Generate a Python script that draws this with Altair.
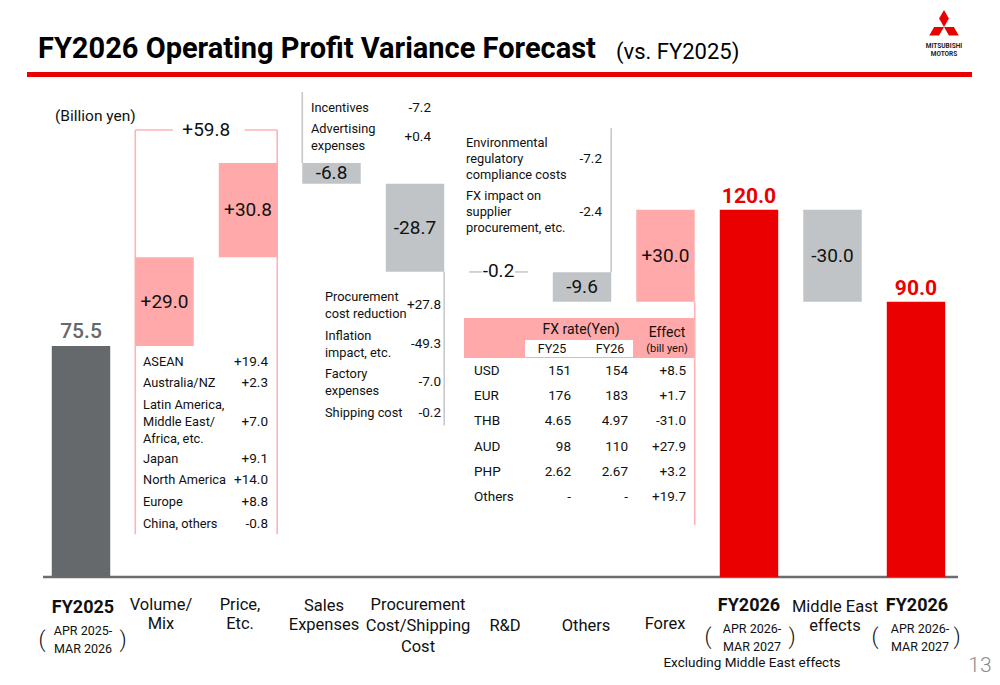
import altair as alt
import pandas as pd

FONT = "Roboto"

# ---- waterfall data (billion yen) ----
steps = ["FY2025", "Volume/Mix", "Price, Etc.", "Sales Expenses",
         "Procurement Cost/Shipping Cost", "R&D", "Others", "Forex",
         "FY2026", "Middle East effects", "FY2026 incl. Middle East"]
values = [75.5, 29.0, 30.8, -6.8, -28.7, -0.2, -9.6, 30.0, 120.0, -30.0, 90.0]
kinds = ["total", "delta", "delta", "delta", "delta", "delta", "delta", "delta",
         "total", "delta", "total"]

# ---- breakdowns ----
volume_items = ["ASEAN", "Australia/NZ", "Latin America,\nMiddle East/\nAfrica, etc.",
                "Japan", "North America", "Europe", "China, others"]
volume_vals = [19.4, 2.3, 7.0, 9.1, 14.0, 8.8, -0.8]

sales_items = ["Incentives", "Advertising\nexpenses"]
sales_vals = [-7.2, 0.4]

procure_items = ["Procurement\ncost reduction", "Inflation\nimpact, etc.",
                 "Factory\nexpenses", "Shipping cost"]
procure_vals = [27.8, -49.3, -7.0, -0.2]

others_items = ["Environmental\nregulatory\ncompliance costs",
                "FX impact on\nsupplier\nprocurement, etc."]
others_vals = [-7.2, -2.4]

fx_currencies = ["USD", "EUR", "THB", "AUD", "PHP", "Others"]
fx_fy25 = ["151", "176", "4.65", "98", "2.62", "-"]
fx_fy26 = ["154", "183", "4.97", "110", "2.67", "-"]
fx_effect = [8.5, 1.7, -31.0, 27.9, 3.2, 19.7]

# ---- colours ----
C_BASE = "#65696c"
C_UP = "#ffa9aa"
C_DOWN = "#c0c4c7"
C_RED = "#eb0000"
C_PINK_LINE = "#ffb3b5"
C_GREY_LINE = "#c6c8ca"

W, H = 1000, 685
HW = 0.35  # half bar width in category units
X_DOM = [-0.9701, 11.006]
Y_DOM = [-35.30, 188.59]
x_scale = alt.Scale(domain=X_DOM, nice=False, zero=False)
y_scale = alt.Scale(domain=Y_DOM, nice=False, zero=False)


def sx(px):
    """Screen x (layout units) -> category axis units."""
    return X_DOM[0] + px / W * (X_DOM[1] - X_DOM[0])


def sy(py):
    """Screen y (layout units) -> value axis units."""
    return Y_DOM[1] - py / H * (Y_DOM[1] - Y_DOM[0])


def fmt(v):
    return f"{v:+.1f}"


# ---- build waterfall table ----
rows = []
running = 0.0
for i, (s, v, k) in enumerate(zip(steps, values, kinds)):
    if k == "total":
        start, end = 0.0, v
        running = v
        fill = C_BASE if i == 0 else C_RED
    else:
        start, end = running, running + v
        running = end
        fill = C_UP if v > 0 else C_DOWN
    rows.append(dict(idx=i, step=s, x0=i - HW, x1=i + HW, start=start, end=end,
                     mid=(start + end) / 2, top=max(start, end), fill=fill,
                     kind=k, value=v))
bar_df = pd.DataFrame(rows)
ends = bar_df.set_index("idx")["end"].to_dict()
starts = bar_df.set_index("idx")["start"].to_dict()

X = lambda f: alt.X(f, scale=x_scale, axis=None)
Y = lambda f: alt.Y(f, scale=y_scale, axis=None)

bars = alt.Chart(bar_df).mark_rect().encode(
    x=X("x0:Q"), x2="x1:Q", y=Y("start:Q"), y2="end:Q",
    color=alt.Color("fill:N", scale=None),
)

# delta labels centred in the bars
delta_df = bar_df[(bar_df.kind == "delta") & (bar_df.step != "R&D")].copy()
delta_df["label"] = delta_df["value"].map(fmt)
delta_labels = alt.Chart(delta_df).mark_text(font=FONT, fontSize=19, color="#111").encode(
    x=X("idx:Q"), y=Y("mid:Q"), text="label:N")

# R&D: thin bar with its label sitting on it
rd_df = bar_df[bar_df.step == "R&D"].copy()
rd_df["label"] = rd_df["value"].map(fmt)
rd_df["bx0"] = rd_df["idx"] - 0.2
rd_df["bx1"] = rd_df["idx"] + 0.2
rd_df["by0"] = rd_df["mid"] - 2.5
rd_df["by1"] = rd_df["mid"] + 2.5
rd_line = alt.Chart(rd_df).mark_rule(color="#b5b8bb", strokeWidth=1).encode(
    x=X("x0:Q"), x2="x1:Q", y=Y("mid:Q"))
rd_bg = alt.Chart(rd_df).mark_rect(color="white").encode(
    x=X("bx0:Q"), x2="bx1:Q", y=Y("by0:Q"), y2="by1:Q")
rd_label = alt.Chart(rd_df).mark_text(font=FONT, fontSize=19, color="#111", dy=-1).encode(
    x=X("idx:Q"), y=Y("mid:Q"), text="label:N")

# totals labelled above the bars
tot_df = bar_df[bar_df.kind == "total"].copy()
tot_df["label"] = tot_df["value"].map(lambda v: f"{v:.1f}")
tot_first = alt.Chart(tot_df[tot_df.idx == 0]).mark_text(
    font=FONT, fontSize=21, color=C_BASE, fontWeight=500, dy=-14).encode(
    x=X("idx:Q"), y=Y("top:Q"), text="label:N")
tot_red = alt.Chart(tot_df[tot_df.idx > 0]).mark_text(
    font=FONT, fontSize=21, color=C_RED, fontWeight="bold", dy=-13).encode(
    x=X("idx:Q"), y=Y("top:Q"), text="label:N")

# ---- connector lines attached to the bars ----
BRACKET_V = 146.1
TABLE_BOTTOM_V = 14.0
conn = [
    # bracket over Volume/Mix + Price
    (1 - HW, 1 - HW, BRACKET_V, TABLE_BOTTOM_V, C_PINK_LINE),
    (2 + HW, 2 + HW, BRACKET_V, TABLE_BOTTOM_V, C_PINK_LINE),
    (1 - HW, 1.10, BRACKET_V, BRACKET_V, C_PINK_LINE),
    (1.96, 2 + HW, BRACKET_V, BRACKET_V, C_PINK_LINE),
    # Sales expenses
    (3 - HW, 3 - HW, starts[3], 158.5, C_GREY_LINE),
    # Procurement
    (4 + HW, 4 + HW, ends[4], 49.5, C_GREY_LINE),
    # Others
    (6 + HW, 6 + HW, starts[6], 146.7, C_GREY_LINE),
    # Forex
    (7 + HW, 7 + HW, starts[7], 17.0, C_PINK_LINE),
]
conn_df = pd.DataFrame(conn, columns=["xa", "xb", "ya", "yb", "c"])
connectors = alt.Chart(conn_df).mark_rule(strokeWidth=1.6).encode(
    x=X("xa:Q"), x2="xb:Q", y=Y("ya:Q"), y2="yb:Q",
    color=alt.Color("c:N", scale=None))

bracket_df = pd.DataFrame([dict(x=1.5, y=BRACKET_V, label=fmt(values[1] + values[2]))])
bracket_label = alt.Chart(bracket_df).mark_text(font=FONT, fontSize=19, color="#111").encode(
    x=X("x:Q"), y=Y("y:Q"), text="label:N")

# x axis baseline
axis_df = pd.DataFrame([dict(a=-0.455, b=10.503, y=0.0)])
axis_line = alt.Chart(axis_df).mark_rule(color="#6b6e71", strokeWidth=2.5).encode(
    x=X("a:Q"), x2="b:Q", y=Y("y:Q"))


# ---- annotation text placed in layout units (y = centre of the text block) ----
def px_text(rows_, lineHeight=17, **kw):
    recs = []
    for a, b, t in rows_:
        n = t.count("\n") + 1
        recs.append(dict(px=sx(a), py=sy(b - (n - 1) * lineHeight / 2), text=t))
    df = pd.DataFrame(recs)
    base = dict(font=FONT, lineBreak="\n", baseline="middle", color="#111",
                lineHeight=lineHeight)
    base.update(kw)
    return alt.Chart(df).mark_text(**base).encode(
        x=X("px:Q"), y=Y("py:Q"), text="text:N")


def px_rect(a, b, c, d, fill):
    df = pd.DataFrame([dict(a=sx(a), b=sx(b), c=sy(c), d=sy(d))])
    return alt.Chart(df).mark_rect(color=fill).encode(
        x=X("a:Q"), x2="b:Q", y=Y("c:Q"), y2="d:Q")


layers = []
LBL = 12.8   # breakdown item labels
VAL = 13.5   # breakdown values

# Volume/Mix breakdown
vol_y = [362, 383, 422, 459, 480, 502, 524]
layers.append(px_text([(143, y, t) for y, t in zip(vol_y, volume_items)],
                      align="left", fontSize=LBL, lineHeight=17))
layers.append(px_text([(268, y, fmt(v)) for y, v in zip(vol_y, volume_vals)],
                      align="right", fontSize=VAL))

# Sales expenses breakdown
sales_y = [108, 137]
layers.append(px_text([(311, y, t) for y, t in zip(sales_y, sales_items)],
                      align="left", fontSize=LBL, lineHeight=17))
layers.append(px_text([(431, y, fmt(v)) for y, v in zip(sales_y, sales_vals)],
                      align="right", fontSize=VAL))

# Procurement breakdown
proc_y = [305, 344, 382, 413]
layers.append(px_text([(325, y, t) for y, t in zip(proc_y, procure_items)],
                      align="left", fontSize=LBL, lineHeight=17))
layers.append(px_text([(441, y, fmt(v)) for y, v in zip(proc_y, procure_vals)],
                      align="right", fontSize=VAL))

# Others breakdown
oth_y = [159, 212]
layers.append(px_text([(466, y, t) for y, t in zip(oth_y, others_items)],
                      align="left", fontSize=LBL, lineHeight=16))
layers.append(px_text([(602, y, fmt(v)) for y, v in zip(oth_y, others_vals)],
                      align="right", fontSize=VAL))

# FX table
layers.append(px_rect(464, 694, 318, 358, C_UP))
layers.append(px_rect(525, 633, 340, 357, "white"))
layers.append(px_text([(581, 330, "FX rate(Yen)"), (667, 333, "Effect")],
                      align="center", fontSize=14))
layers.append(px_text([(552, 349, "FY25"), (610, 349, "FY26")],
                      align="center", fontSize=12.5))
layers.append(px_text([(667, 349, "(bill yen)")], align="center", fontSize=11))
fx_y = [371, 396, 421, 447, 472, 497]
layers.append(px_text([(474, y, t) for y, t in zip(fx_y, fx_currencies)],
                      align="left", fontSize=VAL))
layers.append(px_text([(571, y, t) for y, t in zip(fx_y, fx_fy25)],
                      align="right", fontSize=VAL))
layers.append(px_text([(628, y, t) for y, t in zip(fx_y, fx_fy26)],
                      align="right", fontSize=VAL))
layers.append(px_text([(686, y, fmt(v)) for y, v in zip(fx_y, fx_effect)],
                      align="right", fontSize=VAL))

# unit note
layers.append(px_text([(55, 116, "(Billion yen)")], align="left", fontSize=15.5))

# category labels below the axis
layers.append(px_text([(161, 614, "Volume/\nMix"), (240, 614, "Price,\nEtc."),
                       (324, 615, "Sales\nExpenses"), (835, 616, "Middle East\neffects")],
                      align="center", fontSize=16.5, lineHeight=19))
layers.append(px_text([(418, 626, "Procurement\nCost/Shipping\nCost")],
                      align="center", fontSize=16.5, lineHeight=21))
layers.append(px_text([(505, 626, "R&D"), (586, 626, "Others"), (665, 624, "Forex")],
                      align="center", fontSize=16.5))
layers.append(px_text([(83, 608, "FY2025"), (749, 606, "FY2026"), (917, 606, "FY2026")],
                      align="center", fontSize=18, fontWeight="bold"))
layers.append(px_text([(83, 640, "APR 2025-\nMAR 2026"), (752, 638, "APR 2026-\nMAR 2027"),
                       (920, 638, "APR 2026-\nMAR 2027")],
                      align="center", fontSize=12.5, lineHeight=18))
layers.append(px_text([(42, 640, "("), (123, 640, ")"), (708, 637, "("), (792, 637, ")"),
                       (875, 637, "("), (957, 637, ")")],
                      align="center", fontSize=22, fontWeight=300))
layers.append(px_text([(752, 663, "Excluding Middle East effects")],
                      align="center", fontSize=13.5))
layers.append(px_text([(980, 666, "13")], align="center", fontSize=21, color="#8c8c8c",
                      fontWeight=300))

# header
layers.append(px_rect(27, 972, 72, 77, C_RED))
layers.append(px_text([(38, 49, "FY2026 Operating Profit Variance Forecast")],
                      align="left", fontSize=29, fontWeight="bold", color="#000"))
layers.append(px_text([(616, 52, "(vs. FY2025)")], align="left", fontSize=22, color="#000"))

# logo: three diamonds and wordmark
diamond = "M0,-1L0.577,0L0,1L-0.577,0Z"
for cx, cy, ang in [(944, 18.5, 0), (936.6, 31.3, 60), (951.4, 31.3, 120)]:
    ddf = pd.DataFrame([dict(px=sx(cx), py=sy(cy))])
    layers.append(alt.Chart(ddf).mark_point(
        shape=diamond, filled=True, size=289, color=C_RED, opacity=1,
        strokeWidth=0, angle=ang).encode(x=X("px:Q"), y=Y("py:Q")))
layers.append(px_text([(944, 46, "MITSUBISHI"), (944, 54, "MOTORS")],
                      align="center", fontSize=6.5, fontWeight="bold", color="#222"))

chart = alt.layer(
    connectors, axis_line, bars, rd_line, rd_bg, rd_label, delta_labels,
    tot_first, tot_red, bracket_label, *layers
).properties(
    width=W, height=H, padding=0, autosize=alt.AutoSizeParams(type="none"),
    background="white",
).configure_view(stroke=None)

chart.save("out.html", embed_options={"renderer": "svg", "actions": False})
